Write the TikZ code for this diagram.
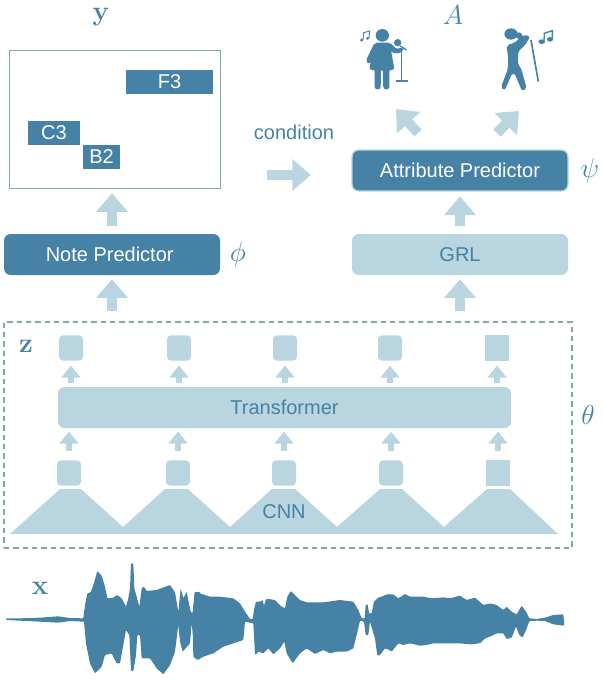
\documentclass[tikz,border=0pt]{standalone}
\usepackage[no-math]{fontspec}
\setmainfont{Liberation Sans}
\usetikzlibrary{positioning, arrows.meta}
\definecolor{deepblue}{HTML}{4682A5}
\definecolor{paleblue}{HTML}{B9D5DF}
\definecolor{framegray}{HTML}{7FA8A8}

\begin{document}
\begin{tikzpicture}[
    x=0.75pt, y=-0.75pt,
    % Clean styles
    darkbox/.style={
        rectangle,
        rounded corners=5pt,
        fill=deepblue,
        minimum width=162pt,
        minimum height=30.75pt,
        text=white,
        font=\fontsize{15}{18}\selectfont
    },
    lightbox/.style={
        darkbox,
        fill=paleblue,
        text=deepblue
    },
    notebar/.style={
        rectangle,
        fill=deepblue,
        minimum height=18pt,
        inner sep=0pt,
        text=white,
        font=\fontsize{15}{18}\selectfont
    },
    tokenbox/.style={
        rectangle,
        rounded corners=3pt,
        fill=paleblue,
        minimum width=18pt,
        minimum height=19pt,
        inner sep=0pt
    },
    bigarrow/.style={
        -{Triangle[length=14pt,width=23pt]},
        line width=7.5pt,
        paleblue,
        shorten <=6pt,
        shorten >=3.5pt
    },
    smallarrow/.style={
        -{Triangle[length=9pt,width=14pt]},
        line width=5pt,
        paleblue,
        shorten <=2.5pt,
        shorten >=3.5pt
    },
    symbol/.style={
        text=deepblue,
        font=\fontsize{20}{24}\selectfont
    },
    plainlabel/.style={
        text=deepblue,
        font=\fontsize{15}{18}\selectfont
    },
    icon/.style={
        fill=deepblue,
        draw=deepblue,
        line width=1pt,
        line join=round,
        rounded corners=1.5pt
    }
]
\useasboundingbox (0,0) rectangle (603,690);

% === Top left: note roll ===
\node[symbol] (ylabel) at (101,17) {$\mathbf{y}$};
\node[draw=framegray, line width=0.75pt, minimum width=158.25pt, minimum height=103.5pt, inner sep=0pt] (roll) at (114.5,119) {};
\node[notebar, minimum width=65.25pt] (noteF) at (169.5,82) {F3};
\node[notebar, minimum width=39pt] (noteC) at (54,133) {C3};
\node[notebar, minimum width=27.75pt] (noteB) at (101.5,157) {B2};
\node[darkbox] (notepred) at (112,254.5) {\kern-3.5pt Note Predictor};
\node[symbol] (philabel) at (238,255) {$\phi$};

% === Top right: attributes ===
\node[symbol] (alabel) at (453,15) {$A$};
\coordinate (singerfoot) at (396,109);
\coordinate (playerfoot) at (519,111);
\coordinate (singertail) at (418,133);
\coordinate (playertail) at (497,133);
\node[plainlabel] (condlabel) at (294,132) {condition};
\coordinate (condstart) at (267,175);
\coordinate (condend) at (311,175);
\node[darkbox, draw=paleblue, line width=1pt] (attrpred) at (460,170.5) {Attribute Predictor};
\node[symbol] (psilabel) at (590,171) {$\psi$};
\node[lightbox] (grl) at (460,254.5) {GRL};

% === Middle: encoder ===
\node[draw=framegray, line width=1.2pt, dash pattern=on 4pt off 3pt, minimum width=426pt, minimum height=169.5pt, inner sep=0pt] (encoder) at (288,435) {};
\node[symbol] (zlabel) at (26,346) {$\mathbf{z}$};
\node[symbol] (thetalabel) at (588,415) {$\theta$};
\node[tokenbox] (up1) at (71,348) {};
\node[tokenbox] (up2) at (179,348) {};
\node[tokenbox] (up3) at (285,348) {};
\node[tokenbox] (up4) at (390,348) {};
\node[tokenbox, sharp corners] (up5) at (497,348) {};
\node[lightbox, minimum width=340pt] (transformer) at (284.5,407.5) {Transformer};
\node[tokenbox] (low1) at (69,473) {};
\node[tokenbox] (low2) at (178,473) {};
\node[tokenbox] (low3) at (284,473) {};
\node[tokenbox] (low4) at (391,473) {};
\node[tokenbox, sharp corners] (low5) at (498,473) {};
\fill[paleblue] (10,534) -- (60,489) -- (81,489) -- (123,527) -- (165,489) -- (188,489)
    -- (230,527) -- (272,489) -- (295,489) -- (337,527) -- (380,489) -- (402,489)
    -- (444,527) -- (487,489) -- (510,489) -- (558,534) -- cycle;
\node[plainlabel] (cnn) at (284,512) {CNN};

% === Arrows ===
\draw[bigarrow] (notepred.north) -- (notepred.north |- roll.south);
\draw[bigarrow, shorten <=7.5pt, shorten >=3pt] (notepred.south |- encoder.north) -- (notepred.south);
\draw[bigarrow] (grl.north) -- (attrpred.south);
\draw[bigarrow, shorten <=7.5pt, shorten >=3pt] (grl.south |- encoder.north) -- (grl.south);
\draw[bigarrow, shorten <=0pt, shorten >=0pt] (condstart) -- (condend);
\draw[bigarrow, shorten <=0pt, shorten >=0pt] (singertail) -- (singerfoot);
\draw[bigarrow, shorten <=0pt, shorten >=0pt] (playertail) -- (playerfoot);
\draw[smallarrow] (up1.south |- transformer.north) -- (up1.south);
\draw[smallarrow] (up2.south |- transformer.north) -- (up2.south);
\draw[smallarrow] (up3.south |- transformer.north) -- (up3.south);
\draw[smallarrow] (up4.south |- transformer.north) -- (up4.south);
\draw[smallarrow] (up5.south |- transformer.north) -- (up5.south);
\draw[smallarrow, shorten <=7pt, shorten >=2.5pt] (low1.north) -- (low1.north |- transformer.south);
\draw[smallarrow, shorten <=7pt, shorten >=2.5pt] (low2.north) -- (low2.north |- transformer.south);
\draw[smallarrow, shorten <=7pt, shorten >=2.5pt] (low3.north) -- (low3.north |- transformer.south);
\draw[smallarrow, shorten <=7pt, shorten >=2.5pt] (low4.north) -- (low4.north |- transformer.south);
\draw[smallarrow, shorten <=7pt, shorten >=2.5pt] (low5.north) -- (low5.north |- transformer.south);

% === Singer icons ===
\begin{scope}[shift={(355,20)}, x=0.25pt, y=-0.25pt]
    \fill[deepblue] (82,46) ellipse[x radius=20, y radius=19];
    \path[icon] (60,70) -- (105,70) -- (124,90) -- (142,84) -- (143,93) -- (122,100)
        -- (106,90) -- (116,148) -- (101,148) -- (101,206) -- (87,206) -- (85,148) -- (76,148) -- (75,206)
        -- (61,206) -- (61,148) -- (45,148) -- (55,95) -- (44,130) -- (34,124) -- cycle;
    \fill[deepblue] (128,68) circle[radius=11];
    \draw[deepblue, line width=1pt] (135,78) -- (155,90);
    \draw[deepblue, line width=1pt] (139,90) -- (139,180);
    \draw[deepblue, line width=1.2pt] (122,183) -- (158,183);
    \draw[deepblue, line width=0.7pt] (24,60) -- (26,38) -- (44,33) -- (42,54);
    \fill[deepblue] (20,60) circle[radius=5];
    \fill[deepblue] (38,55) circle[radius=5];
\end{scope}
\begin{scope}[shift={(495,20)}, x=0.25pt, y=-0.25pt]
    \fill[deepblue] (48,42) ellipse[x radius=20, y radius=17];
    \fill[deepblue] (72,47) circle[radius=10];
    \path[icon] (37,77) -- (60,70) -- (85,47) -- (103,50) -- (88,75) -- (68,93) -- (66,130)
        -- (78,150) -- (93,206) -- (82,210) -- (60,158) -- (50,158) -- (28,209) -- (20,201) -- (40,150) -- (42,120) -- cycle;
    \draw[deepblue, line width=1.25pt] (108,60) -- (130,185);
    \draw[deepblue, line width=1pt] (147,64) -- (148,40) -- (172,32) -- (172,56);
    \fill[deepblue] (140,65) ellipse[x radius=10, y radius=7];
    \fill[deepblue] (165,58) ellipse[x radius=9, y radius=7];
\end{scope}

% === Bottom: waveform ===
\node[symbol] (xlabel) at (40,588) {$\mathbf{x}$};
\begin{scope}[shift={(0,555)}, x=0.25pt, y=-0.25pt]
    \fill[deepblue, rounded corners=0.6pt] (18,190) -- (60,190) -- (120,188) -- (175,184) -- (210,189) -- (250,190) -- (255,150)
        -- (262,115) -- (272,112) -- (280,90) -- (292,48) -- (305,62) -- (315,95) -- (322,130) -- (340,128) -- (352,120)
        -- (365,130) -- (378,155) -- (385,130) -- (390,100) -- (393,25) -- (400,25) -- (403,100) -- (410,125) -- (418,155)
        -- (425,100) -- (432,95) -- (440,108) -- (470,105) -- (510,90) -- (525,112) -- (535,170) -- (542,100) -- (550,130)
        -- (560,110) -- (572,170) -- (578,175) -- (585,112) -- (600,110)
        -- (600,315) -- (585,300) -- (575,205) -- (570,265) -- (548,290) -- (540,260) -- (535,210) -- (525,290) -- (510,330)
        -- (490,358) -- (470,340) -- (450,310) -- (425,310) -- (420,240) -- (412,240) -- (408,300) -- (400,348) -- (393,348)
        -- (388,240) -- (378,225) -- (360,325) -- (350,325) -- (335,295) -- (315,300) -- (305,335) -- (295,345) -- (285,355)
        -- (270,325) -- (258,265) -- (252,200) -- (210,198) -- (175,203) -- (120,200) -- (60,197) -- (18,195) -- cycle;
\end{scope}
\begin{scope}[shift={(190,555)}, x=0.25pt, y=-0.25pt]
    \fill[deepblue, rounded corners=0.6pt] (8,175) -- (14,110) -- (30,115) -- (60,125) -- (90,125) -- (130,130) -- (150,145)
        -- (165,170) -- (180,192) -- (188,192) -- (193,160) -- (198,140) -- (210,140) -- (218,135) -- (222,152) -- (228,132)
        -- (238,132) -- (255,135) -- (275,155) -- (285,160) -- (292,125) -- (302,108) -- (315,120) -- (330,135) -- (350,142)
        -- (400,142) -- (450,135) -- (490,140) -- (505,165) -- (515,190) -- (524,190) -- (527,150) -- (533,148) -- (537,175)
        -- (545,175) -- (552,140) -- (565,128) -- (590,120) -- (600,118)
        -- (600,285) -- (585,280) -- (570,300) -- (562,302) -- (555,250) -- (540,200) -- (535,240) -- (527,240) -- (522,200)
        -- (510,197) -- (500,240) -- (490,280) -- (470,290) -- (440,290) -- (420,295) -- (400,285) -- (375,297) -- (350,280)
        -- (330,295) -- (308,325) -- (290,295) -- (283,260) -- (270,280) -- (250,298) -- (235,280) -- (220,295) -- (205,290)
        -- (195,300) -- (190,205) -- (165,200) -- (160,255) -- (130,265) -- (100,275) -- (70,295) -- (40,305) -- (22,315)
        -- (10,305) -- (8,205) -- cycle;
\end{scope}
\begin{scope}[shift={(380,555)}, x=0.25pt, y=-0.25pt]
    \fill[deepblue, rounded corners=0.6pt] (0,128) -- (20,118) -- (40,118) -- (55,130) -- (75,117) -- (90,125) -- (130,125)
        -- (155,130) -- (190,127) -- (210,130) -- (240,122) -- (260,135) -- (285,128) -- (310,150) -- (330,145) -- (350,150)
        -- (370,165) -- (380,155) -- (395,170) -- (410,178) -- (425,152) -- (438,170) -- (448,190) -- (470,192) -- (495,188)
        -- (520,180) -- (550,178) -- (553,210)
        -- (550,212) -- (520,208) -- (495,198) -- (470,197) -- (448,198) -- (440,220) -- (428,248) -- (418,240) -- (408,215)
        -- (395,248) -- (380,252) -- (370,235) -- (350,235) -- (330,245) -- (315,250) -- (300,265) -- (270,268) -- (240,265)
        -- (200,265) -- (160,265) -- (140,270) -- (120,272) -- (90,265) -- (70,270) -- (55,265) -- (35,290) -- (20,280)
        -- (10,270) -- (0,290) -- cycle;
\end{scope}

\end{tikzpicture}
\end{document}
